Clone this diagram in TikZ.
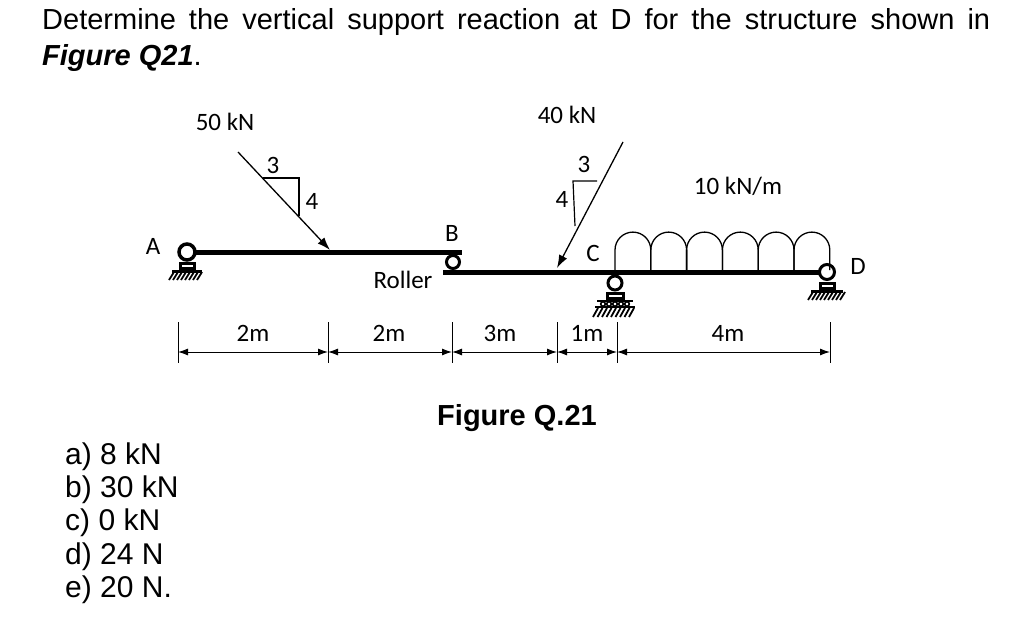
\documentclass[tikz,border=0pt]{standalone}
\usepackage{fontspec}
\setmainfont{Liberation Sans}
\newfontfamily\carfont{Carlito}
\usetikzlibrary{arrows.meta}
\begin{document}
\begin{tikzpicture}[x=1pt,y=-1pt,
  lbl/.style={font=\carfont\fontsize{25}{25}\selectfont,inner sep=0},
  beam/.style={line width=5pt},
  dim/.style={line width=1pt,{Latex[length=10pt,width=7pt]}-{Latex[length=10pt,width=7pt]}},
  tick/.style={line width=1pt},
  force/.style={line width=1.3pt,-{Latex[length=13pt,width=9pt]}},
  opt/.style={font=\fontsize{30}{30}\selectfont,anchor=west,inner sep=0}]
\useasboundingbox (0,0) rectangle (1024,642);
% question text
\node[anchor=west,inner sep=0,font=\fontsize{29}{29}\selectfont] (q1) at (42,22)
  {\makebox[948pt][s]{Determine the vertical support reaction at D for the structure shown in}};
\node[anchor=west,inner sep=0,font=\fontsize{29}{29}\selectfont] (q2) at (42,58)
  {\textbf{\textit{Figure Q21}}.};
% beams
\draw[beam] (187,252) -- (462,252);
\draw[beam] (443,272) -- (830,272);
% support A
\coordinate (A) at (187,252);
\draw[line width=3.5pt,fill=white] (A) circle (8);
\draw[line width=3pt,fill=white] (180,263) rectangle (194,268);
\draw[line width=3pt] (172,271) -- (202,271);
\foreach \i in {0,...,7}{\draw[line width=1.8pt] (174+4*\i,272) -- (169+4*\i,280);}
\node[lbl] (la) at (153,246) {A};
% hinge B
\coordinate (B) at (453,262);
\draw[line width=3pt,fill=white] (B) circle (6.5);
\node[lbl] (lb) at (452,233) {B};
\node[lbl] (roller) at (403,280) {Roller};
% support C
\coordinate (C) at (615,283);
\draw[line width=3pt,fill=white] (C) circle (7);
\draw[line width=3pt,fill=white] (607,293) rectangle (623,298);
\draw[line width=2.5pt] (597,301) -- (633,301);
\foreach \i in {0,...,4}{\draw[line width=1.6pt] (603+6*\i,304) circle (2.3);}
\draw[line width=2.5pt] (595,307) -- (635,307);
\foreach \i in {0,...,8}{\draw[line width=1.8pt] (598+4.5*\i,308) -- (593+4.5*\i,317);}
\node[lbl] (lc) at (593,253) {C};
% support D
\coordinate (D) at (827,272);
\draw[line width=3pt,fill=white] (D) circle (7.5);
\draw[line width=3pt,fill=white] (820,283) rectangle (834,288);
\draw[line width=3pt] (811,291) -- (843,291);
\foreach \i in {0,...,8}{\draw[line width=1.8pt] (813+4*\i,292) -- (808+4*\i,300);}
\node[lbl] (ld) at (858,266) {D};
% 50 kN force
\coordinate (f1s) at (238,152); \coordinate (f1e) at (330,250);
\draw[force] (f1s) -- (f1e);
\draw[line width=1.2pt] (263,178) -- (299,178) -- (299,216);
\node[lbl] (t3a) at (273,165) {3};
\node[lbl] (t4a) at (312,201) {4};
\node[lbl] (f50) at (225,122) {50 kN};
% 40 kN force
\coordinate (f2s) at (623,142); \coordinate (f2e) at (557,268);
\draw[force] (f2s) -- (f2e);
\draw[line width=1.2pt] (597,181) -- (573,181) -- (575,226);
\node[lbl] (t3b) at (584,164) {3};
\node[lbl] (t4b) at (562,199) {4};
\node[lbl] (f40) at (567,115) {40 kN};
% distributed load loops
\foreach \i in {0,...,5}{
  \draw[line width=1.3pt] (615+35.8*\i,270) -- (615+35.8*\i,250) arc[start angle=180,end angle=360,radius=17.9] -- (615+35.8*\i+35.8,270);}
\node[lbl] (w) at (738,186) {10 kN/m};
% dimensions
\foreach \x/\n in {178/d0,328/d1,452/d2,557/d3,617/d4,830/d5}{
  \coordinate (\n) at (\x,352);
  \draw[tick] (\x,322) -- (\x,363);}
\draw[dim] (d0) -- (d1);
\draw[dim] (d1) -- (d2);
\draw[dim] (d2) -- (d3);
\draw[dim] (d3) -- (d4);
\draw[dim] (d4) -- (d5);
\node[lbl] (m1) at (253,333) {2m};
\node[lbl] (m2) at (389,333) {2m};
\node[lbl] (m3) at (500,333) {3m};
\node[lbl] (m4) at (587,333) {1m};
\node[lbl] (m5) at (728,333) {4m};
\node[inner sep=0,font=\bfseries\fontsize{29}{29}\selectfont] (fig) at (517,418) {Figure Q.21};
% options
\node[opt] (oa) at (65,457) {a) 8 kN};
\node[opt] (ob) at (65,490) {b) 30 kN};
\node[opt] (oc) at (65,523) {c) 0 kN};
\node[opt] (od) at (65,557) {d) 24 N};
\node[opt] (oe) at (65,590) {e) 20 N.};
\end{tikzpicture}
\end{document}
